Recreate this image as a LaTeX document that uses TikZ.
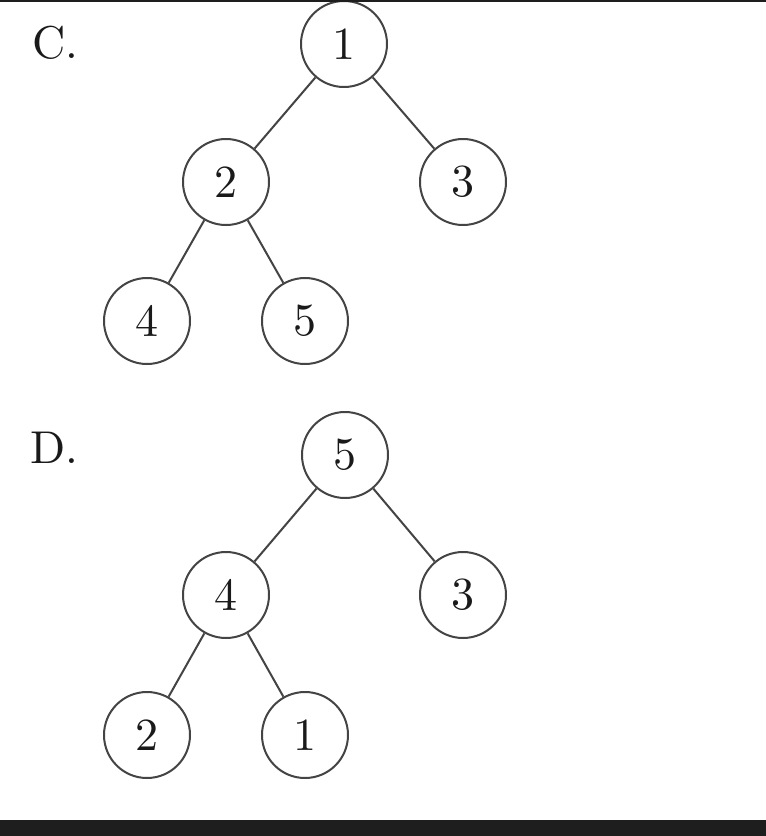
\documentclass[tikz,border=0pt]{standalone}
\usepackage{tikz}
\usepackage{graphicx}
\definecolor{barc}{HTML}{1E1E1E}
\definecolor{linec}{HTML}{444444}
\definecolor{textc}{HTML}{1A1A1A}
\newcommand{\bigtxt}[1]{\scalebox{2.3}{#1}}
\begin{document}
\begin{tikzpicture}[x=0.5pt,y=-0.5pt,
  tnode/.style={circle,draw=linec,line width=1pt,minimum size=43pt,inner sep=0pt,text=textc},
  tlabel/.style={anchor=base west,inner sep=0pt,text=textc},
  tedge/.style={draw=linec,line width=1pt}]
\useasboundingbox (0,0) rectangle (766,836);
\fill[white] (0,0) rectangle (766,836);
% C
\node[tlabel] (labC) at (32,58) {\bigtxt{C.}};
\node[tnode] (c1) at (344,44) {\bigtxt{1}};
\node[tnode] (c2) at (226,182) {\bigtxt{2}};
\node[tnode] (c3) at (463,182) {\bigtxt{3}};
\node[tnode] (c4) at (147,321) {\bigtxt{4}};
\node[tnode] (c5) at (305,321) {\bigtxt{5}};
\draw[tedge] (c1) -- (c2);
\draw[tedge] (c1) -- (c3);
\draw[tedge] (c2) -- (c4);
\draw[tedge] (c2) -- (c5);
% D
\node[tlabel] (labD) at (30,463) {\bigtxt{D.}};
\node[tnode] (d5) at (345,455) {\bigtxt{5}};
\node[tnode] (d4) at (226,595) {\bigtxt{4}};
\node[tnode] (d3) at (463,595) {\bigtxt{3}};
\node[tnode] (d2) at (147,735) {\bigtxt{2}};
\node[tnode] (d1) at (305,735) {\bigtxt{1}};
\draw[tedge] (d5) -- (d4);
\draw[tedge] (d5) -- (d3);
\draw[tedge] (d4) -- (d2);
\draw[tedge] (d4) -- (d1);
% bars
\fill[barc] (0,0) rectangle (766,2);
\fill[barc] (0,820) rectangle (766,836);
\end{tikzpicture}
\end{document}
